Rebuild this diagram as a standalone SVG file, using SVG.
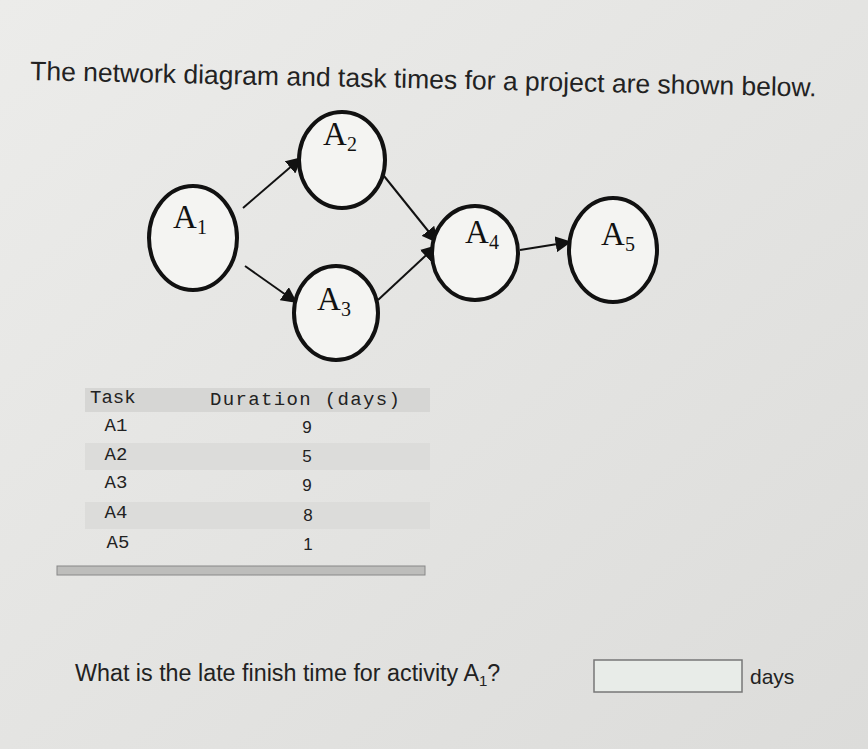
<svg xmlns="http://www.w3.org/2000/svg" width="868" height="749" viewBox="0 0 868 749">
<defs>
<marker id="ah" viewBox="0 0 10 10" refX="9" refY="5" markerWidth="8" markerHeight="8" orient="auto"><path d="M0,0L10,5L0,10z" fill="#111"/></marker>
<linearGradient id="bg" x1="0" y1="0" x2="1" y2="1"><stop offset="0" stop-color="#ececea"/><stop offset="1" stop-color="#dcdcda"/></linearGradient>
</defs>
<style>
.n{fill:#f4f4f2;stroke:#111;stroke-width:4}
.nl{font-family:"Liberation Serif",serif;font-size:33px;fill:#111;text-anchor:middle}
.e{stroke:#111;stroke-width:2;fill:none;marker-end:url(#ah)}
.m{font-family:"Liberation Mono",monospace;font-size:19px;fill:#222}
.s{font-family:"Liberation Sans",sans-serif;fill:#222}
</style>
<rect width="868" height="749" fill="url(#bg)"/>
<text class="s" x="30" y="80" font-size="26.5" transform="rotate(1.2 30 80)">The network diagram and task times for a project are shown below.</text>
<g id="connectors">
<line class="e" x1="243" y1="208" x2="301" y2="158"/>
<line class="e" x1="245" y1="266" x2="296" y2="302"/>
<line class="e" x1="384" y1="176" x2="437" y2="242"/>
<line class="e" x1="378" y1="300" x2="436" y2="246"/>
<line class="e" x1="520" y1="250" x2="570" y2="242"/>
</g>
<g id="A1"><ellipse class="n" cx="193" cy="238" rx="44" ry="52"/><text class="nl" x="190" y="228">A<tspan font-size="20" dy="6">1</tspan></text></g>
<g id="A2"><ellipse class="n" cx="342" cy="160" rx="43" ry="48"/><text class="nl" x="340" y="145">A<tspan font-size="20" dy="6">2</tspan></text></g>
<g id="A3"><ellipse class="n" cx="336" cy="313" rx="42" ry="47"/><text class="nl" x="334" y="310">A<tspan font-size="20" dy="6">3</tspan></text></g>
<g id="A4"><ellipse class="n" cx="475" cy="253" rx="43" ry="47"/><text class="nl" x="482" y="243">A<tspan font-size="20" dy="6">4</tspan></text></g>
<g id="A5"><ellipse class="n" cx="613" cy="250" rx="44" ry="52"/><text class="nl" x="618" y="245">A<tspan font-size="20" dy="6">5</tspan></text></g>
<g id="table">
<rect x="85" y="388" width="345" height="24" fill="#d6d6d4"/>
<rect x="85" y="443" width="345" height="27" fill="#dcdcda"/>
<rect x="85" y="502" width="345" height="27" fill="#dcdcda"/>
<rect x="57" y="566" width="368" height="9" fill="#bdbdbb" stroke="#888"/>
<text class="m" x="90" y="403">Task</text>
<text class="m" x="210" y="405" textLength="190">Duration (days)</text>
<g text-anchor="middle" class="m">
<text x="116" y="431">A1</text><text x="116" y="460">A2</text><text x="116" y="488">A3</text><text x="116" y="518">A4</text><text x="118" y="548">A5</text>
</g>
<g text-anchor="middle" class="s" font-size="17">
<text x="307" y="433">9</text><text x="307" y="462">5</text><text x="307" y="491">9</text><text x="308" y="521">8</text><text x="308" y="550">1</text>
</g>
</g>
<text class="s" x="75" y="681" font-size="23.3">What is the late finish time for activity A<tspan font-size="15" dy="5">1</tspan><tspan dy="-5">?</tspan></text>
<rect x="594" y="660" width="148" height="32" fill="#e8ece8" stroke="#777" stroke-width="1.5"/>
<text class="s" x="750" y="684" font-size="21">days</text>
</svg>
